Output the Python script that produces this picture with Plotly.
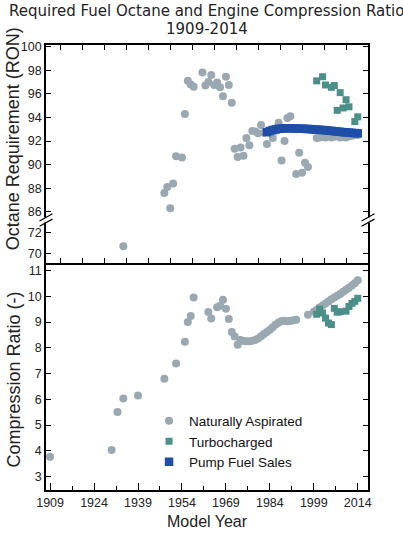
import plotly.graph_objects as go

# ---------------- data ----------------
# Octane requirement (RON), naturally aspirated
na_ron_year = [1934, 1948, 1949, 1950, 1951, 1952, 1954, 1955, 1956, 1957, 1958,
               1961, 1962, 1963, 1964, 1965, 1966, 1967, 1968, 1969, 1970, 1971,
               1972, 1973, 1974, 1975, 1976, 1977, 1978, 1979, 1980, 1981, 1982,
               1983, 1984, 1985, 1986, 1987, 1988, 1989, 1990, 1991, 1993, 1994,
               1995, 1996, 1997,
               2000, 2001, 2002, 2003, 2004, 2005, 2006, 2007, 2008, 2009, 2010,
               2011, 2012, 2013, 2014]
na_ron = [70.7, 87.6, 88.1, 86.3, 88.4, 90.7, 90.6, 94.3, 97.1, 96.8, 96.6,
          97.8, 96.7, 97.0, 97.6, 96.75, 96.95, 96.55, 95.8, 97.45, 96.75, 95.25,
          91.35, 90.65, 91.45, 90.75, 92.25, 91.65, 92.85, 92.8, 92.65, 93.35, 92.7,
          91.75, 92.7, 92.25, 92.9, 93.55, 90.35, 92.0, 93.95, 94.1, 89.2, 91.0,
          89.3, 90.15, 89.8,
          92.25, 92.3, 92.35, 92.3, 92.4, 92.3, 92.35, 92.4, 92.3, 92.35, 92.3,
          92.4, 92.45, 92.5, 92.5]

# Octane requirement (RON), turbocharged
tc_ron_year = [2000, 2002, 2003, 2005, 2006, 2007, 2008, 2009, 2010, 2011, 2013, 2014]
tc_ron = [97.1, 97.45, 96.75, 96.55, 96.7, 94.6, 96.1, 94.8, 95.5, 94.9, 93.65, 94.05]

# Pump fuel sales (RON)
pump_year = list(range(1983, 2015))
pump_ron = [92.75, 92.85, 92.93, 92.99, 93.03, 93.06, 93.08, 93.08, 93.08, 93.07,
            93.06, 93.05, 93.04, 93.03, 93.02, 93.0, 92.98, 92.97, 92.95, 92.93,
            92.91, 92.88, 92.86, 92.83, 92.8, 92.78, 92.75, 92.73, 92.71, 92.69,
            92.67, 92.65]

# Compression ratio, naturally aspirated
na_cr_year = [1909, 1930, 1932, 1934, 1939, 1948, 1952, 1955, 1956, 1957, 1958,
              1963, 1964, 1966, 1967, 1968, 1969, 1970, 1971, 1972, 1973,
              1974, 1975, 1976, 1977, 1978, 1979, 1980, 1981, 1982, 1983, 1984,
              1985, 1986, 1987, 1988, 1989, 1990, 1991, 1992, 1993, 1997,
              1999, 2000, 2001, 2002, 2003, 2004, 2005, 2006, 2007, 2008, 2009,
              2010, 2011, 2012, 2013, 2014]
na_cr = [3.77, 4.03, 5.51, 6.03, 6.15, 6.80, 7.39, 8.23, 9.0, 9.23, 9.95,
         9.39, 9.14, 9.57, 9.63, 9.86, 9.51, 9.12, 8.61, 8.44, 8.12,
         8.30, 8.26, 8.25, 8.25, 8.27, 8.30, 8.36, 8.45, 8.53, 8.61, 8.70,
         8.80, 8.90, 8.98, 9.04, 9.05, 9.03, 9.04, 9.07, 9.09, 9.28,
         9.40, 9.48, 9.56, 9.64, 9.72, 9.80, 9.88, 9.95, 10.02, 10.09, 10.17,
         10.25, 10.33, 10.42, 10.50, 10.62]

# Compression ratio, turbocharged
tc_cr_year = [2000, 2001, 2002, 2003, 2004, 2005, 2006, 2007, 2008, 2010, 2011, 2012, 2013, 2014]
tc_cr = [9.30, 9.50, 9.35, 9.15, 8.96, 8.90, 9.53, 9.38, 9.40, 9.42, 9.60, 9.72, 9.80, 9.92]

bottom_ticks = [1909, 1924, 1939, 1954, 1969, 1984, 1999, 2014]

# ---------------- style ----------------
C_NA = "#9aa8b1"
C_TC = "#4a8f88"
C_PUMP = "#1f4ea9"
FONT = "Liberation Sans, Arial, sans-serif"
TFONT = "DejaVu Sans, sans-serif"
XR = [1907.6, 2017.5]
BREAK = 0.6067
SPLIT = 0.5101

na_up_x = [x for x, v in zip(na_ron_year, na_ron) if v >= 80]
na_up_y = [v for v in na_ron if v >= 80]
na_lo_x = [x for x, v in zip(na_ron_year, na_ron) if v < 80]
na_lo_y = [v for v in na_ron if v < 80]

fig = go.Figure()
fig.add_trace(go.Scatter(x=na_up_x, y=na_up_y, mode="markers", xaxis="x2", yaxis="y2",
                         marker=dict(color=C_NA, size=8), showlegend=False))
fig.add_trace(go.Scatter(x=na_lo_x, y=na_lo_y, mode="markers", xaxis="x3", yaxis="y3",
                         marker=dict(color=C_NA, size=8), showlegend=False))
fig.add_trace(go.Scatter(x=tc_ron_year, y=tc_ron, mode="markers", xaxis="x2", yaxis="y2",
                         marker=dict(color=C_TC, size=7, symbol="square"), showlegend=False))
fig.add_trace(go.Scatter(x=pump_year, y=pump_ron, mode="markers", xaxis="x2", yaxis="y2",
                         name="Pump Fuel Sales", legendrank=3,
                         marker=dict(color=C_PUMP, size=8.5, symbol="square")))
fig.add_trace(go.Scatter(x=na_cr_year, y=na_cr, mode="markers", xaxis="x", yaxis="y",
                         name="Naturally Aspirated", legendrank=1,
                         marker=dict(color=C_NA, size=8)))
fig.add_trace(go.Scatter(x=tc_cr_year, y=tc_cr, mode="markers", xaxis="x", yaxis="y",
                         name="Turbocharged", legendrank=2,
                         marker=dict(color=C_TC, size=7, symbol="square")))

axis_common = dict(showline=True, linecolor="black", linewidth=1.6, showgrid=False,
                   zeroline=False, ticks="inside", tickcolor="black",
                   tickfont=dict(family=FONT, size=12.5, color="#222"))

title1_font = dict(family=TFONT, size=15, color="#222")
title2_font = dict(family=TFONT, size=15, color="#222")
ytitle_font = dict(family=FONT, size=18, color="#222")
xtitle_font = dict(family=FONT, size=16, color="#222")

fig.update_layout(
    width=403, height=533,
    margin=dict(l=46, r=35, t=45, b=43),
    paper_bgcolor="white", plot_bgcolor="white",
    font=dict(family=FONT, color="#222"),
    xaxis=dict(**axis_common, range=XR, anchor="y", domain=[0, 1], mirror=False,
               tickmode="array", tickvals=bottom_ticks, ticklen=7,
               minor=dict(tickmode="array", tickvals=[t + 7.5 for t in bottom_ticks],
                          ticks="inside", ticklen=4, tickcolor="black")),
    xaxis2=dict(**axis_common, range=XR, anchor="y2", side="top", matches="x",
                tickmode="linear", tick0=1905, dtick=7.5, ticklen=5, showticklabels=False),
    xaxis3=dict(**axis_common, range=XR, anchor="y3", side="bottom", matches="x",
                tickmode="linear", tick0=1905, dtick=7.5, ticklen=5, showticklabels=False),
    yaxis=dict(**axis_common, domain=[0, SPLIT], anchor="x", range=[2.48, 11.29],
               tickmode="linear", tick0=3, dtick=1, ticklen=5, mirror="ticks"),
    yaxis2=dict(**axis_common, domain=[BREAK, 1], anchor="x2", range=[85.3, 100.14],
                tickmode="linear", tick0=86, dtick=2, ticklen=5, mirror="ticks"),
    yaxis3=dict(**axis_common, domain=[SPLIT, BREAK], anchor="x3", range=[69.1, 73.19],
                tickmode="linear", tick0=70, dtick=2, ticklen=5, mirror="ticks"),
    legend=dict(x=0.32, y=0.19, xanchor="left", yanchor="top", bgcolor="rgba(0,0,0,0)",
                font=dict(family=FONT, size=13.5, color="#111"), tracegroupgap=0),
    annotations=[
        dict(text="Required Fuel Octane and Engine Compression Ratio", x=0.497, y=1.0775,
             xref="paper", yref="paper", xanchor="center", yanchor="middle",
             showarrow=False, font=title1_font),
        dict(text="1909-2014", x=0.5, y=1.036,
             xref="paper", yref="paper", xanchor="center", yanchor="middle",
             showarrow=False, font=title2_font),
        dict(text="Octane Requirement (RON)", x=-0.1, y=0.79, xref="paper", yref="paper",
             xanchor="center", yanchor="middle",
             textangle=-90, showarrow=False, font=ytitle_font),
        dict(text="Compression Ratio (-)", x=-0.1, y=0.248, xref="paper", yref="paper",
             xanchor="center", yanchor="middle",
             textangle=-90, showarrow=False, font=ytitle_font),
        dict(text="Model Year", x=0.5, y=-0.0697, xref="paper", yref="paper",
             xanchor="center", yanchor="middle",
             showarrow=False, font=xtitle_font),
    ],
)

# axis-break marks on left and right frame
shapes = []
for xp in (0, 1):
    shapes.append(dict(type="rect", xref="paper", yref="paper", x0=xp - 0.006, x1=xp + 0.006,
                       y0=BREAK - 0.006, y1=BREAK + 0.006, fillcolor="white",
                       line=dict(width=0), layer="above"))
    for dy in (-0.006, 0.006):
        shapes.append(dict(type="line", xref="paper", yref="paper",
                           x0=xp - 0.02, x1=xp + 0.02, y0=BREAK + dy - 0.008, y1=BREAK + dy + 0.008,
                           line=dict(color="black", width=1.2), layer="above"))
fig.update_layout(shapes=shapes)

fig.write_html("out.html")
